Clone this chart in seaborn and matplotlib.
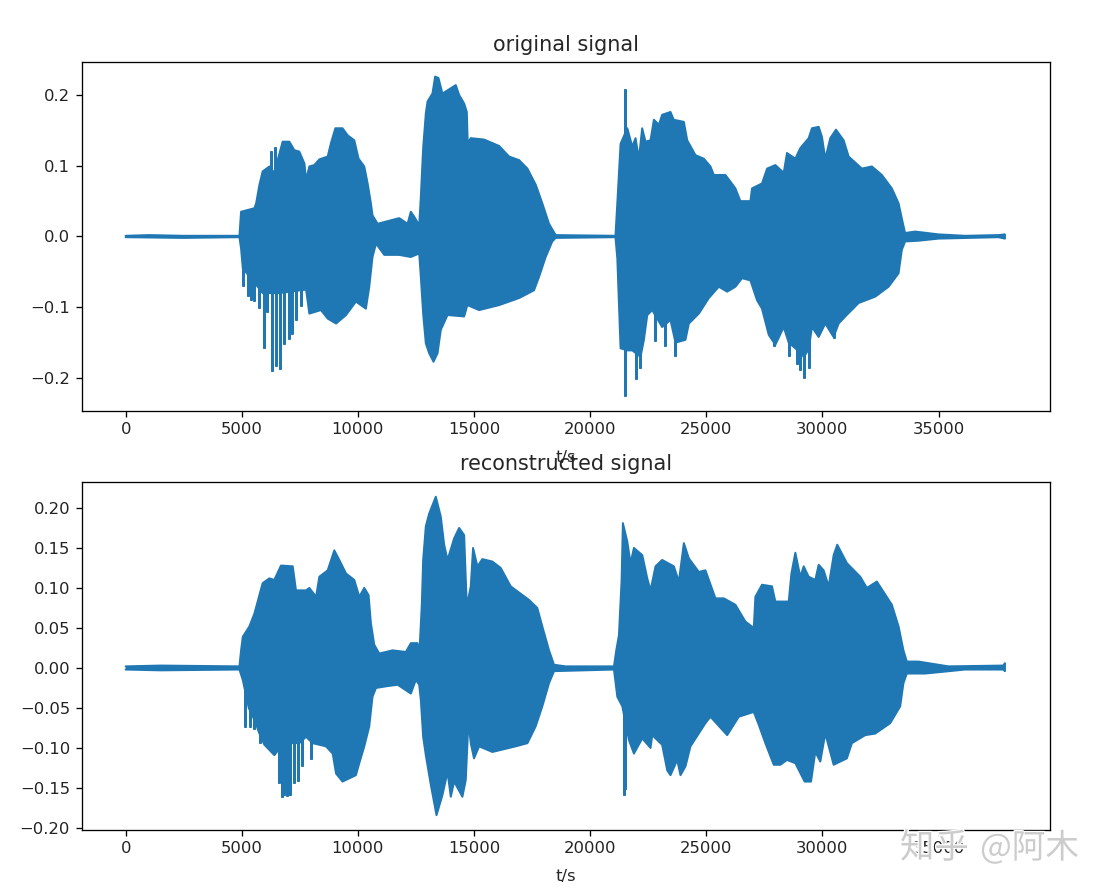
import numpy as np
import matplotlib.pyplot as plt
import matplotlib.patheffects as pe
import seaborn as sns

# original signal: outer shape of the waveform
orig_upper_x = [0, 1000, 2500, 4900, 4970, 5545, 5620, 5760, 5900, 6190, 6400, 6760, 7050, 7265, 7480, 7700, 7770, 7910, 8125, 8340, 8700, 8840, 9030, 9340, 9560, 9845, 10030, 10275, 10420, 10560, 10630, 10850, 11205, 11780, 12140, 12280, 12425, 12640, 12710, 12810, 12925, 13000, 13210, 13325, 13470, 13640, 14215, 14360, 14575, 14690, 14730, 14860, 15435, 16080, 16510, 16940, 17300, 17660, 17940, 18230, 18515, 21090, 21170, 21310, 21600, 21815, 21955, 22100, 22240, 22385, 22600, 22745, 22960, 23100, 23460, 23600, 24035, 24180, 24535, 24895, 25180, 25325, 25825, 26255, 26470, 26900, 26970, 27400, 27620, 27975, 28335, 28475, 28835, 29050, 29410, 29550, 29840, 29980, 30125, 30340, 30585, 30915, 31130, 31700, 32130, 32560, 32990, 33280, 33450, 33560, 33995, 34995, 36145, 37575, 37860]
orig_upper_y = [0.001, 0.002, 0.001, 0.001, 0.035, 0.040, 0.047, 0.073, 0.092, 0.099, 0.090, 0.134, 0.134, 0.122, 0.120, 0.103, 0.080, 0.099, 0.101, 0.109, 0.113, 0.132, 0.153, 0.153, 0.143, 0.136, 0.110, 0.099, 0.075, 0.047, 0.030, 0.018, 0.021, 0.026, 0.018, 0.035, 0.028, 0.016, 0.056, 0.125, 0.174, 0.191, 0.202, 0.226, 0.224, 0.202, 0.214, 0.200, 0.188, 0.176, 0.132, 0.139, 0.137, 0.128, 0.113, 0.108, 0.096, 0.073, 0.047, 0.018, 0.002, 0.001, 0.047, 0.131, 0.153, 0.127, 0.139, 0.110, 0.153, 0.134, 0.136, 0.165, 0.158, 0.172, 0.176, 0.165, 0.162, 0.136, 0.115, 0.110, 0.099, 0.087, 0.087, 0.068, 0.050, 0.050, 0.068, 0.075, 0.096, 0.101, 0.090, 0.118, 0.110, 0.125, 0.139, 0.153, 0.155, 0.141, 0.110, 0.139, 0.151, 0.136, 0.113, 0.096, 0.099, 0.087, 0.068, 0.047, 0.021, 0.005, 0.007, 0.003, 0.001, 0.002, 0.003]
orig_lower_x = [0, 2500, 4900, 4970, 5045, 5760, 5900, 6620, 7770, 7910, 8410, 8700, 9060, 9490, 9915, 10345, 10490, 10630, 10780, 11135, 11780, 12280, 12640, 12710, 12810, 12925, 13070, 13255, 13430, 13570, 13860, 14575, 14715, 14860, 15220, 16080, 16940, 17585, 17800, 18085, 18370, 18515, 21090, 21170, 21310, 21600, 21815, 22170, 22315, 22460, 22675, 23100, 23460, 23675, 24105, 24250, 24680, 25110, 25540, 25900, 26255, 26540, 26900, 27185, 27400, 27690, 27975, 28335, 28550, 28905, 29195, 29410, 29550, 29840, 30125, 30480, 30700, 30985, 31560, 32275, 32850, 33280, 33420, 33560, 34135, 34995, 37575, 37860]
orig_lower_y = [-0.001, -0.002, -0.001, -0.017, -0.045, -0.074, -0.080, -0.080, -0.075, -0.109, -0.104, -0.116, -0.123, -0.111, -0.092, -0.102, -0.071, -0.029, -0.010, -0.026, -0.026, -0.029, -0.024, -0.057, -0.109, -0.151, -0.165, -0.177, -0.165, -0.132, -0.111, -0.113, -0.097, -0.099, -0.104, -0.097, -0.087, -0.076, -0.057, -0.029, -0.007, -0.002, -0.001, -0.031, -0.158, -0.161, -0.161, -0.170, -0.146, -0.111, -0.104, -0.128, -0.118, -0.150, -0.146, -0.123, -0.109, -0.087, -0.071, -0.078, -0.071, -0.059, -0.062, -0.090, -0.102, -0.139, -0.153, -0.128, -0.150, -0.160, -0.170, -0.160, -0.128, -0.142, -0.123, -0.142, -0.123, -0.113, -0.094, -0.085, -0.071, -0.052, -0.019, -0.007, -0.006, -0.003, -0.001, -0.003]
# single pitch spikes that stick out of that shape
orig_spike_x = [5075, 5260, 5400, 5545, 5730, 5950, 6100, 6290, 6480, 6665, 6835, 7020, 7165, 7335, 7550, 6260, 6450, 21500, 21500, 21955, 22130, 22790, 23220, 23650, 27900, 28550, 28905, 29050, 29220, 29410, 30480]
orig_spike_y = [-0.069, -0.083, -0.088, -0.090, -0.100, -0.156, -0.105, -0.189, -0.182, -0.186, -0.151, -0.144, -0.137, -0.116, -0.097, 0.120, 0.125, 0.207, -0.224, -0.200, -0.184, -0.146, -0.153, -0.168, -0.153, -0.168, -0.179, -0.187, -0.198, -0.184, -0.142]

# reconstructed signal
rec_upper_x = [0, 1500, 4900, 4970, 5045, 5330, 5545, 5760, 5900, 6190, 6400, 6690, 7195, 7335, 7770, 7910, 8200, 8340, 8700, 8985, 9200, 9490, 9845, 10060, 10275, 10460, 10560, 10705, 10920, 11490, 12065, 12280, 12570, 12640, 12755, 12810, 12925, 13070, 13355, 13570, 13715, 13860, 14145, 14360, 14575, 14690, 14860, 14960, 15145, 15360, 15790, 16150, 16580, 17370, 17725, 17940, 18230, 18445, 18945, 21025, 21125, 21240, 21355, 21410, 21600, 21740, 21885, 22245, 22460, 22600, 22815, 23100, 23605, 23820, 24035, 24250, 24680, 24965, 25395, 25755, 26255, 26685, 27045, 27115, 27400, 27830, 27975, 28550, 28665, 28835, 29050, 29195, 29410, 29695, 29840, 30055, 30270, 30485, 30640, 31055, 31630, 31915, 32345, 32990, 33280, 33490, 33635, 34135, 35425, 37790, 37860]
rec_upper_y = [0.002, 0.003, 0.002, 0.022, 0.039, 0.052, 0.068, 0.091, 0.106, 0.112, 0.110, 0.128, 0.127, 0.097, 0.097, 0.100, 0.089, 0.114, 0.122, 0.147, 0.135, 0.118, 0.110, 0.089, 0.100, 0.091, 0.056, 0.029, 0.018, 0.022, 0.020, 0.031, 0.031, 0.014, 0.081, 0.135, 0.177, 0.193, 0.214, 0.189, 0.154, 0.135, 0.162, 0.175, 0.166, 0.077, 0.102, 0.150, 0.127, 0.136, 0.133, 0.125, 0.102, 0.085, 0.075, 0.052, 0.022, 0.004, 0.002, 0.002, 0.022, 0.041, 0.110, 0.181, 0.158, 0.131, 0.150, 0.141, 0.112, 0.097, 0.127, 0.135, 0.127, 0.108, 0.156, 0.137, 0.120, 0.122, 0.087, 0.087, 0.079, 0.058, 0.050, 0.089, 0.104, 0.102, 0.083, 0.083, 0.118, 0.144, 0.114, 0.127, 0.114, 0.110, 0.129, 0.122, 0.102, 0.141, 0.154, 0.131, 0.114, 0.100, 0.108, 0.079, 0.052, 0.022, 0.008, 0.008, 0.002, 0.003, 0.006]
rec_lower_x = [0, 1500, 4900, 5045, 5300, 5545, 5760, 5975, 6405, 6800, 7480, 7770, 8050, 8625, 8915, 9060, 9340, 9915, 10060, 10275, 10490, 10630, 10780, 11205, 11710, 12280, 12495, 12640, 12710, 12810, 12925, 13140, 13385, 13640, 13860, 14000, 14145, 14500, 14645, 14760, 14860, 15000, 15220, 15790, 16790, 17300, 17655, 17940, 18230, 18445, 21025, 21170, 21385, 21670, 21885, 22245, 22600, 22675, 23100, 23320, 23460, 23750, 23890, 24105, 24320, 24965, 25180, 25900, 26400, 27045, 27260, 27545, 27905, 28190, 28475, 28835, 29235, 29510, 29695, 29910, 30125, 30485, 31055, 31270, 31845, 32275, 32920, 33350, 33490, 33635, 34425, 36145, 37790, 37860]
rec_lower_y = [-0.002, -0.003, -0.002, -0.015, -0.050, -0.065, -0.082, -0.096, -0.109, -0.094, -0.094, -0.086, -0.094, -0.098, -0.107, -0.132, -0.142, -0.134, -0.119, -0.098, -0.073, -0.036, -0.025, -0.023, -0.021, -0.032, -0.015, -0.021, -0.040, -0.086, -0.109, -0.146, -0.184, -0.159, -0.130, -0.161, -0.142, -0.161, -0.140, -0.067, -0.094, -0.113, -0.098, -0.105, -0.098, -0.094, -0.073, -0.048, -0.019, -0.004, -0.002, -0.036, -0.048, -0.090, -0.107, -0.088, -0.100, -0.084, -0.096, -0.128, -0.134, -0.115, -0.134, -0.123, -0.098, -0.069, -0.061, -0.084, -0.061, -0.055, -0.071, -0.094, -0.121, -0.121, -0.115, -0.119, -0.142, -0.142, -0.105, -0.117, -0.082, -0.121, -0.113, -0.094, -0.084, -0.082, -0.069, -0.048, -0.019, -0.007, -0.007, -0.002, -0.002, -0.004]
rec_spike_x = [5160, 5360, 5545, 5800, 6590, 6735, 6830, 6935, 7020, 7095, 7235, 7435, 7580, 7980, 21455, 21500]
rec_spike_y = [-0.073, -0.073, -0.075, -0.092, -0.142, -0.160, -0.158, -0.159, -0.157, -0.157, -0.142, -0.140, -0.121, -0.113, -0.157, -0.150]

titles = ["original signal", "reconstructed signal"]
x_ticks = [0, 5000, 10000, 15000, 20000, 25000, 30000, 35000]
orig_y_ticks = [-0.2, -0.1, 0.0, 0.1, 0.2]
rec_y_ticks = [-0.20, -0.15, -0.10, -0.05, 0.00, 0.05, 0.10, 0.15, 0.20]

W, H, DPI = 1103, 892, 118
BLUE = "#1f77b4"

sns.set_style("ticks")
plt.rcParams["font.family"] = ["DejaVu Sans"]
plt.rcParams["axes.linewidth"] = 0.8

fig = plt.figure(figsize=(W / DPI, H / DPI), dpi=DPI)
ax1 = fig.add_axes([81.5 / W, 1 - 411 / H, 968.5 / W, 349 / H])
ax2 = fig.add_axes([81.5 / W, 1 - 830 / H, 968.5 / W, 348.5 / H])


def draw_wave(ax, upper_x, upper_y, lower_x, lower_y, spike_x, spike_y):
    # body of the waveform
    out_x = np.r_[upper_x, lower_x[::-1]]
    out_y = np.r_[upper_y, lower_y[::-1]]
    ax.fill(out_x, out_y, color=BLUE, lw=0)
    sns.lineplot(x=out_x, y=out_y, sort=False, estimator=None, color=BLUE, lw=1.2, ax=ax)
    # each spike goes zero, tip, zero; left to right so the path stays inside the body
    order = np.argsort(spike_x)
    tips = np.array(spike_y)[order]
    sp_x = np.repeat(np.array(spike_x)[order], 3)
    sp_y = np.ravel(np.column_stack([np.zeros(len(tips)), tips, np.zeros(len(tips))]))
    sns.lineplot(x=sp_x, y=sp_y, sort=False, estimator=None, color=BLUE, lw=1.8, ax=ax)


draw_wave(ax1, orig_upper_x, orig_upper_y, orig_lower_x, orig_lower_y, orig_spike_x, orig_spike_y)
draw_wave(ax2, rec_upper_x, rec_upper_y, rec_lower_x, rec_lower_y, rec_spike_x, rec_spike_y)

ax1.set_ylim(-0.2466, 0.2466)
ax1.set_yticks(orig_y_ticks)
ax2.set_ylim(-0.2025, 0.233)
ax2.set_yticks(rec_y_ticks)

for ax, title in zip([ax1, ax2], titles):
    ax.set_xlim(-1900, 39800)
    ax.set_xticks(x_ticks)
    ax.set_title(title, fontsize=12.7, pad=7)
    ax.set_xlabel("t/s", fontsize=10, labelpad=7.5)
    ax.set_ylabel("")
    ax.tick_params(labelsize=10, length=3.5, width=0.8, color="black", labelcolor="#222222")
    for side in ax.spines.values():
        side.set_visible(True)
        side.set_color("black")

# site watermark over the lower right corner
stroke = [pe.withStroke(linewidth=1.5, foreground="white")]
fig.text(900 / W, 1 - 858 / H, "知乎", fontsize=21, color="#cccccc",
         family=["Noto Sans CJK SC", "DejaVu Sans"], path_effects=stroke)
fig.text(980 / W, 1 - 858 / H, "@阿木", fontsize=20.5, color="#cccccc",
         family=["Noto Sans CJK SC", "DejaVu Sans"], path_effects=stroke)

plt.savefig("out.png", dpi=DPI)
plt.close()
